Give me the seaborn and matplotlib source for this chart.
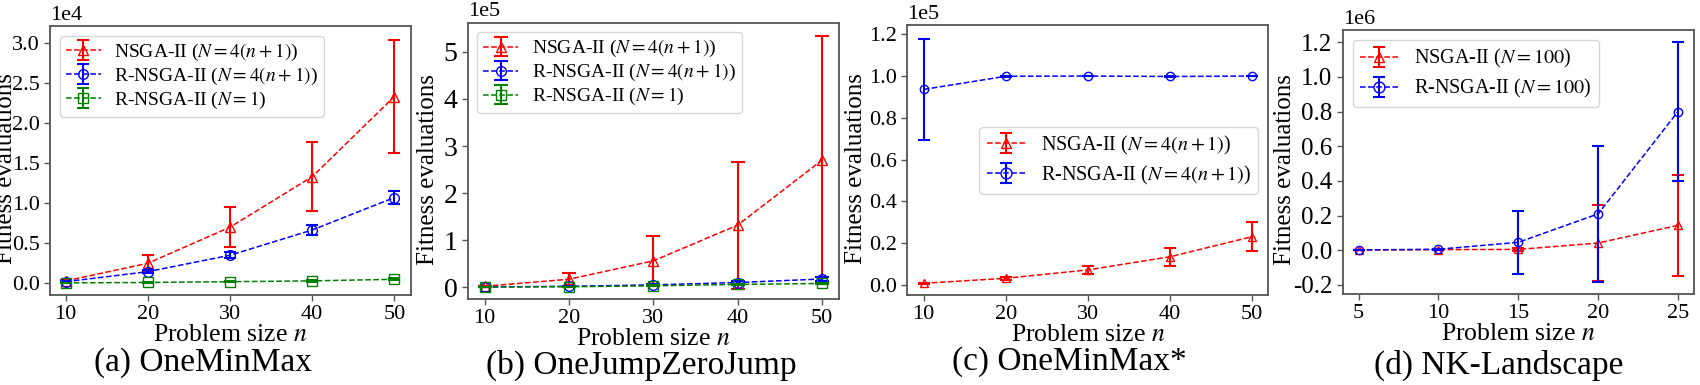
import seaborn as sns
import matplotlib.pyplot as plt
from matplotlib.ticker import MultipleLocator
from matplotlib.container import ErrorbarContainer

# problem sizes
n_small = [10, 20, 30, 40, 50]
n_nk = [5, 10, 15, 20, 25]

# (a) OneMinMax, units of 1e4
omm_nsga = [0.03, 0.25, 0.70, 1.33, 2.33]
omm_nsga_sd = [0.01, 0.10, 0.25, 0.43, 0.71]
omm_rnsga = [0.02, 0.145, 0.35, 0.665, 1.07]
omm_rnsga_sd = [0.005, 0.02, 0.035, 0.065, 0.085]
omm_rnsga1 = [0.005, 0.01, 0.02, 0.03, 0.05]
omm_rnsga1_sd = [0.002, 0.004, 0.006, 0.008, 0.01]

# (b) OneJumpZeroJump, units of 1e5
ojzj_nsga = [0.02, 0.17, 0.56, 1.32, 2.70]
ojzj_nsga_sd = [0.01, 0.14, 0.53, 1.35, 2.64]
ojzj_rnsga = [0.005, 0.02, 0.05, 0.10, 0.175]
ojzj_rnsga_sd = [0.002, 0.01, 0.02, 0.03, 0.04]
ojzj_rnsga1 = [0.003, 0.01, 0.03, 0.06, 0.08]
ojzj_rnsga1_sd = [0.001, 0.004, 0.01, 0.015, 0.02]

# (c) OneMinMax*, units of 1e5
ommx_nsga = [0.008, 0.032, 0.072, 0.135, 0.231]
ommx_nsga_sd = [0.002, 0.008, 0.02, 0.043, 0.07]
ommx_rnsga = [0.936, 0.999, 1.0, 0.998, 1.0]
ommx_rnsga_sd = [0.24, 0.002, 0.001, 0.002, 0.001]

# (d) NK-Landscape, units of 1e6
nk_nsga = [0.002, 0.004, 0.005, 0.042, 0.144]
nk_nsga_sd = [0.001, 0.003, 0.01, 0.22, 0.29]
nk_rnsga = [0.002, 0.006, 0.046, 0.21, 0.80]
nk_rnsga_sd = [0.001, 0.004, 0.18, 0.39, 0.40]

lab_nsga = r'NSGA-II ($N=4(n+1)$)'
lab_rnsga = r'R-NSGA-II ($N=4(n+1)$)'
lab_rnsga1 = r'R-NSGA-II ($N=1$)'
lab_nsga100 = r'NSGA-II ($N=100$)'
lab_rnsga100 = r'R-NSGA-II ($N=100$)'

sns.set_style("white")
plt.rcParams['font.family'] = ['Liberation Serif', 'DejaVu Serif']
plt.rcParams['mathtext.fontset'] = 'stix'
plt.rcParams['text.color'] = 'black'
plt.rcParams['axes.labelcolor'] = 'black'
plt.rcParams['axes.edgecolor'] = '#555555'
plt.rcParams['axes.linewidth'] = 1.3
plt.rcParams['xtick.bottom'] = True
plt.rcParams['ytick.left'] = True
plt.rcParams['xtick.color'] = '#555555'
plt.rcParams['ytick.color'] = '#555555'
plt.rcParams['xtick.labelcolor'] = 'black'
plt.rcParams['ytick.labelcolor'] = 'black'

fig = plt.figure(figsize=(17, 3.85), dpi=100)


def draw(ax, x, y, sd, color, marker, label, ms=7, cap=4):
    sns.lineplot(x=x, y=y, ax=ax, color=color, marker=marker, linestyle='--',
                 linewidth=1.1, markersize=ms, markerfacecolor='none',
                 markeredgecolor=color, markeredgewidth=1.0, errorbar=None)
    line = ax.lines[-1]
    err = ax.errorbar(x, y, yerr=sd, fmt='none', ecolor=color, elinewidth=1.5,
                      capsize=cap, capthick=1.5)
    return ErrorbarContainer((line, err.lines[1], err.lines[2]),
                             has_xerr=False, has_yerr=True, label=label)


def style(ax, ylab_x, step, ylim, xlim, scale, xstep=10):
    ax.yaxis.set_major_locator(MultipleLocator(step))
    ax.xaxis.set_major_locator(MultipleLocator(xstep))
    ax.set_ylim(*ylim)
    ax.set_xlim(*xlim)
    ax.tick_params(labelsize=16, length=4, width=1)
    ax.set_xlabel(r'Problem size $n$', fontsize=18.5, labelpad=0)
    ax.set_ylabel('Fitness evaluations', fontsize=18)
    ax.yaxis.set_label_coords(ylab_x, 0.47)
    # values are stored in scaled units; show the scale like an offset text
    ax.text(0.0, 1.005, scale, transform=ax.transAxes, fontsize=16,
            ha='left', va='bottom')


tight_leg = dict(fontsize=14, handlelength=1.8, labelspacing=0.15,
                 borderpad=0.3, handletextpad=0.7)
loose_leg = dict(fontsize=14.5, handlelength=1.9, labelspacing=0.35,
                 borderpad=0.35, handletextpad=0.8, markerscale=1.3)

# (a)
ax1 = fig.add_axes([0.0294, 0.2338, 0.2124, 0.6987])
h = [draw(ax1, n_small, omm_nsga, omm_nsga_sd, 'red', '^', lab_nsga),
     draw(ax1, n_small, omm_rnsga, omm_rnsga_sd, 'blue', 'o', lab_rnsga),
     draw(ax1, n_small, omm_rnsga1, omm_rnsga1_sd, 'green', 's', lab_rnsga1)]
style(ax1, -0.09, 0.5, (-0.146, 3.21), (8.09, 52.03), '1e4')
ax1.yaxis.set_major_formatter(plt.FormatStrFormatter('%.1f'))
ax1.legend(handles=h, loc='upper left', **tight_leg)

# (b)
ax2 = fig.add_axes([0.2751, 0.2234, 0.2184, 0.7176])
h = [draw(ax2, n_small, ojzj_nsga, ojzj_nsga_sd, 'red', '^', lab_nsga, cap=5),
     draw(ax2, n_small, ojzj_rnsga, ojzj_rnsga_sd, 'blue', 'o', lab_rnsga, cap=5),
     draw(ax2, n_small, ojzj_rnsga1, ojzj_rnsga1_sd, 'green', 's', lab_rnsga1, cap=5)]
style(ax2, -0.077, 1, (-0.25, 5.62), (8.0, 52.0), '1e5')
ax2.yaxis.set_major_formatter(plt.FormatStrFormatter('%d'))
ax2.tick_params(axis='y', labelsize=20)
ax2.legend(handles=h, loc='upper left', **tight_leg)

# (c)
ax3 = fig.add_axes([0.5337, 0.2338, 0.2124, 0.7005])
h = [draw(ax3, n_small, ommx_nsga, ommx_nsga_sd, 'red', '^', lab_nsga, ms=6),
     draw(ax3, n_small, ommx_rnsga, ommx_rnsga_sd, 'blue', 'o', lab_rnsga, ms=6)]
style(ax3, -0.112, 0.2, (-0.048, 1.243), (8.0, 52.0), '1e5')
ax3.yaxis.set_major_formatter(plt.FormatStrFormatter('%.1f'))
ax3.legend(handles=h, loc='center right', **loose_leg)

# (d)
ax4 = fig.add_axes([0.7898, 0.2364, 0.2066, 0.6857])
h = [draw(ax4, n_nk, nk_nsga, nk_nsga_sd, 'red', '^', lab_nsga100, ms=6),
     draw(ax4, n_nk, nk_rnsga, nk_rnsga_sd, 'blue', 'o', lab_rnsga100, ms=6)]
style(ax4, -0.133, 0.2, (-0.252, 1.271), (4.0, 26.0), '1e6', xstep=5)
ax4.yaxis.set_major_formatter(plt.FormatStrFormatter('%.1f'))
ax4.tick_params(axis='y', labelsize=18)
ax4.legend(handles=h, loc='upper left', **loose_leg)

# subfigure captions
fig.text(203 / 1700, 1 - 363 / 385, '(a) OneMinMax', fontsize=24, ha='center', va='center')
fig.text(641.7 / 1700, 1 - 365 / 385, '(b) OneJumpZeroJump', fontsize=24, ha='center', va='center')
fig.text(1069.7 / 1700, 1 - 362 / 385, '(c) OneMinMax*', fontsize=24, ha='center', va='center')
fig.text(1498.7 / 1700, 1 - 365 / 385, '(d) NK-Landscape', fontsize=24, ha='center', va='center')

plt.savefig('out.png', dpi=100)
